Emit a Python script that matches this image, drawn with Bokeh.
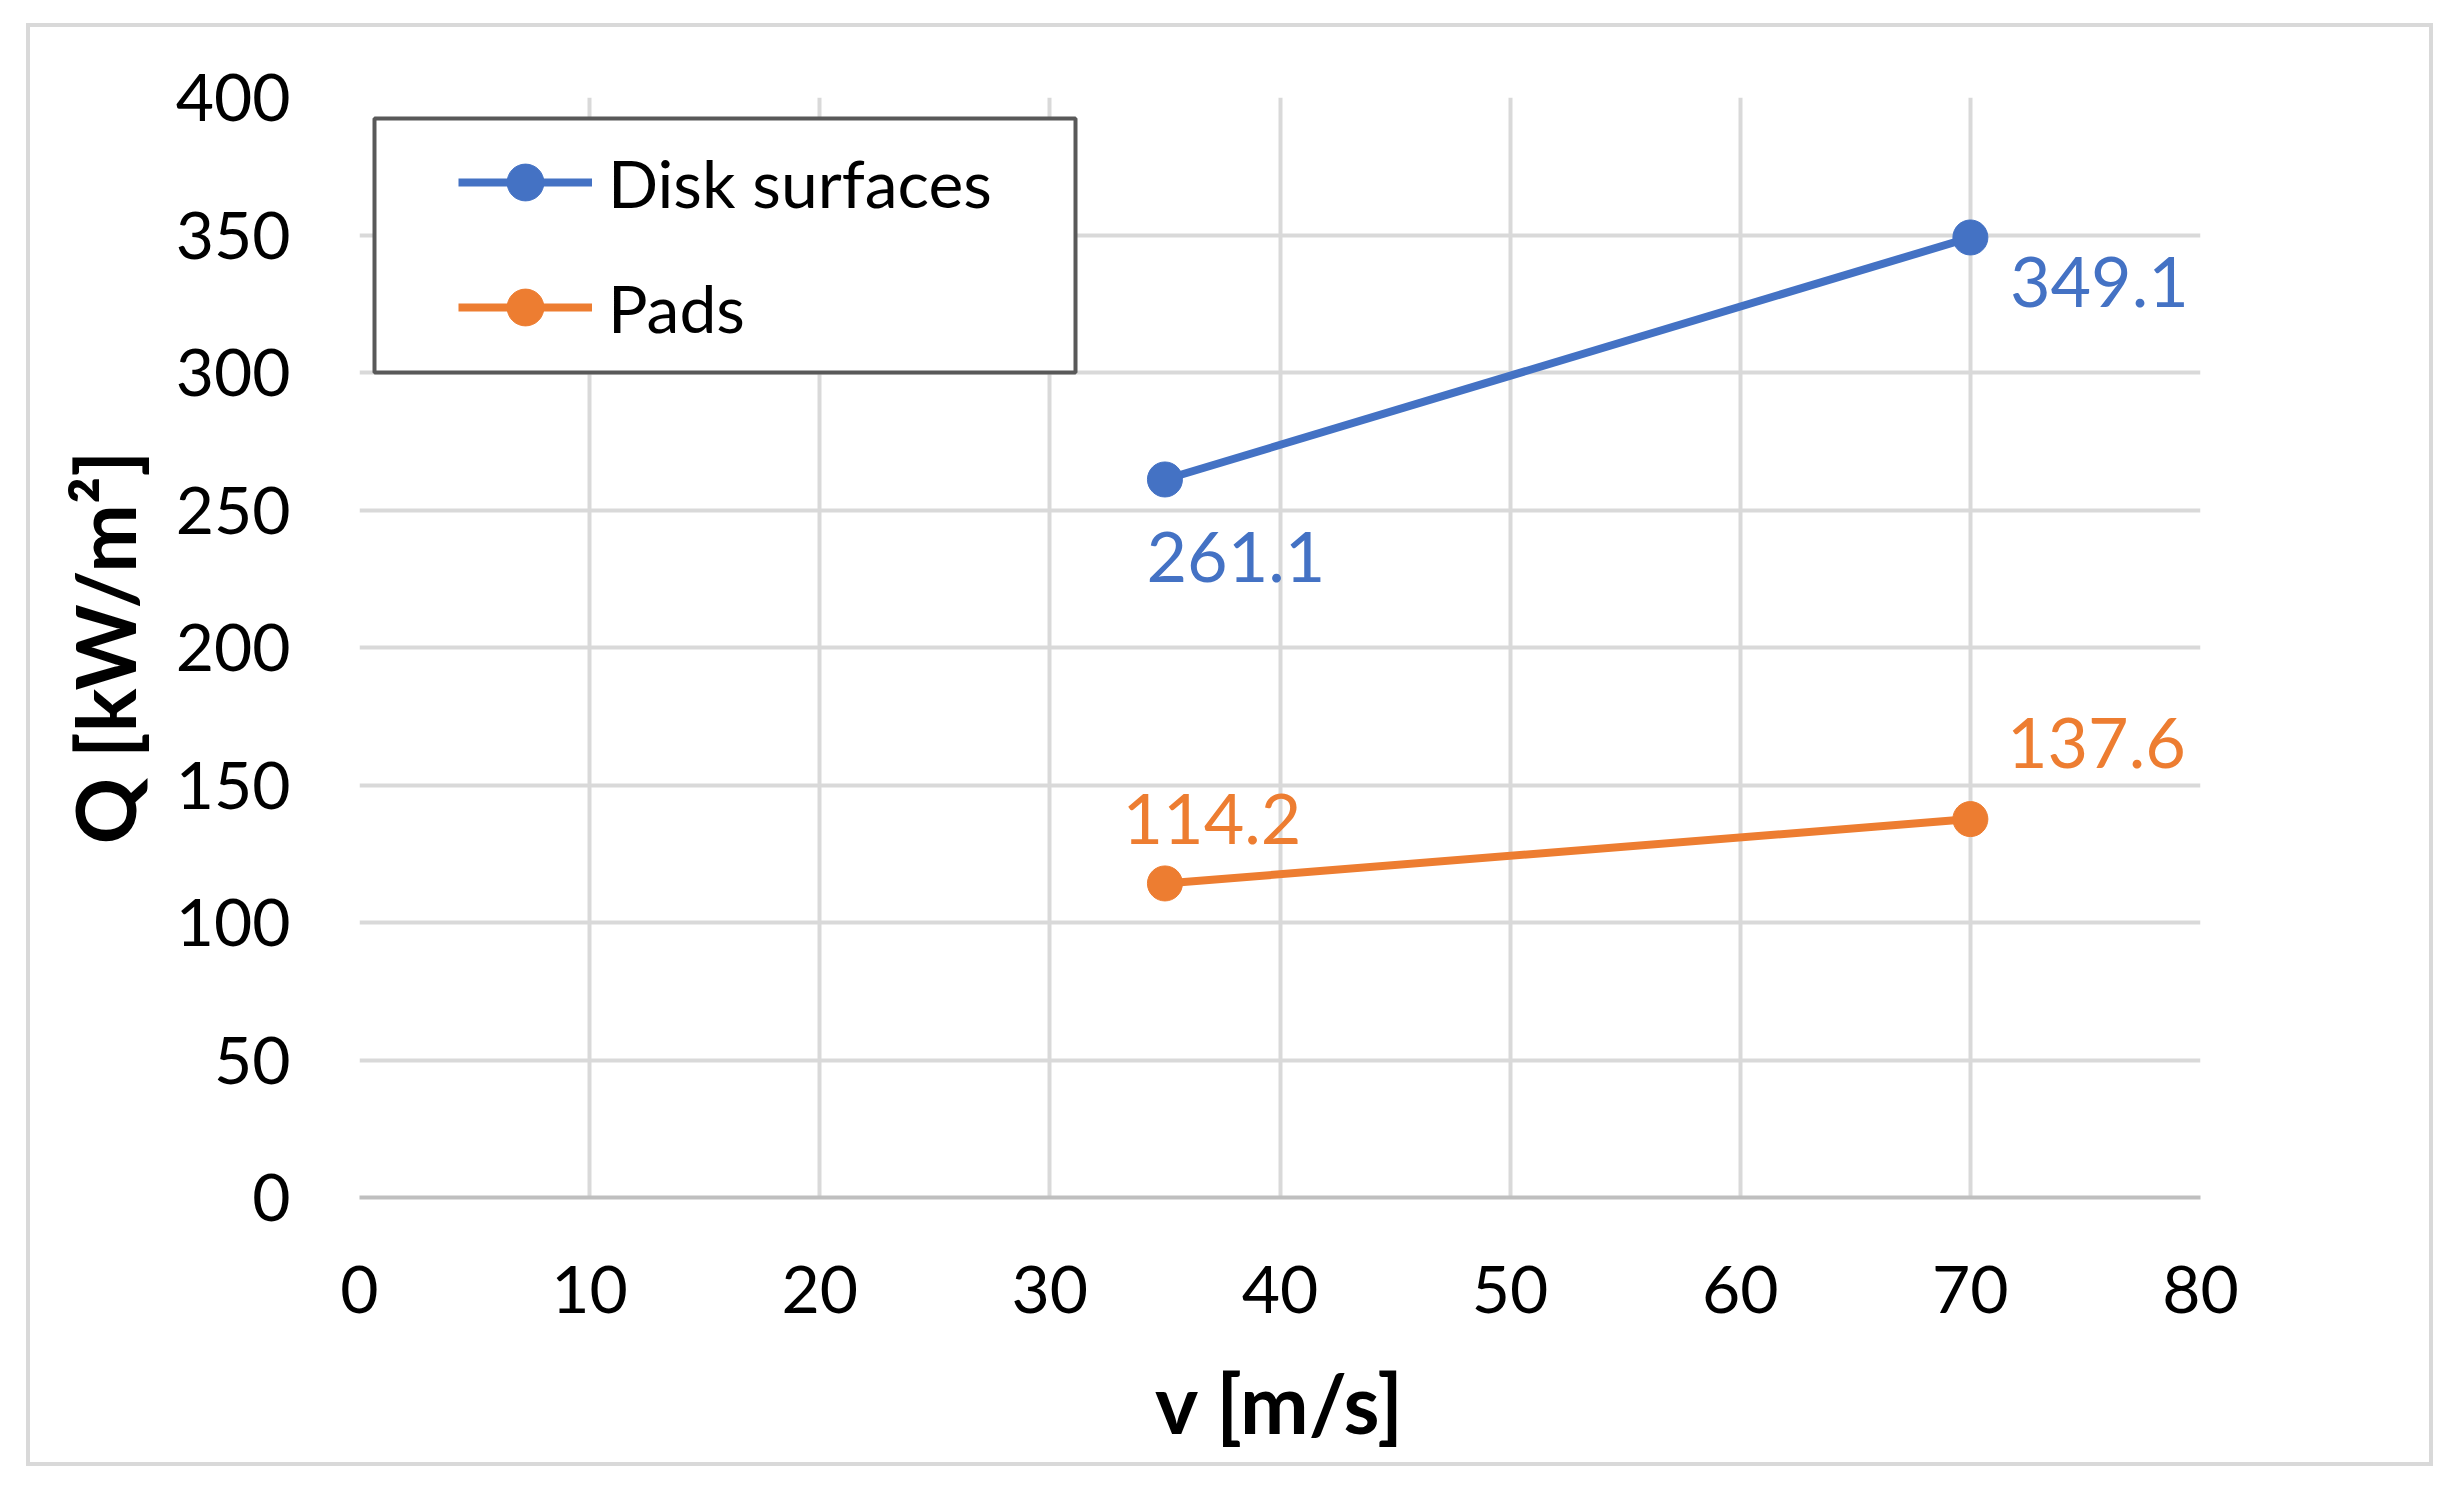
from bokeh.plotting import figure
from bokeh.models import (ColumnDataSource, LabelSet, Legend, LegendItem, BoxAnnotation,
                          Node, SingleIntervalTicker, Range1d)
from bokeh.core.properties import value
from bokeh.embed import file_html
from bokeh.resources import INLINE

# ---- data ----
speed = [35, 70]                 # v [m/s]
disk_surfaces = [261.1, 349.1]   # Q [kW/m2]
pads = [114.2, 137.6]            # Q [kW/m2]
series_names = ["Disk surfaces", "Pads"]
x_title = "v [m/s]"
y_title = "Q [kW/m\u00b2]"

# ---- style ----
BLUE = "#4472C4"
ORANGE = "#ED7D31"
GRID = "#D9D9D9"
FONT = "Lato"
TICK_FS = "66px"
LABEL_FS = "70px"
TITLE_FS = "82px"
FIG_W, FIG_H = 2407, 1443

# data-label offsets (screen px, +up)
disk_dx, disk_dy = [71, 129], [-103, -70]
pads_dx, pads_dy = [47, 126], [39, 51]

# the figure itself is the outer chart area; its light-grey border is an inset CSS shadow
p = figure(width=FIG_W, height=FIG_H, x_range=Range1d(0, 80), y_range=Range1d(0, 400),
           output_backend="svg", toolbar_location=None,
           min_border_left=333, min_border_right=233, min_border_top=74, min_border_bottom=269)
p.styles = {"margin-left": "26px", "margin-top": "23px",
            "width": f"{FIG_W}px", "height": f"{FIG_H}px",
            "background-color": "white",
            "box-shadow": "inset 0 0 0 4px #D9D9D9"}
p.outline_line_color = None
p.background_fill_color = "white"
p.border_fill_alpha = 0

# axes
p.xaxis.ticker = SingleIntervalTicker(interval=10, num_minor_ticks=0)
p.yaxis.ticker = SingleIntervalTicker(interval=50, num_minor_ticks=0)
for ax in (p.xaxis[0], p.yaxis[0]):
    ax.major_tick_line_color = None
    ax.minor_tick_line_color = None
    ax.major_tick_out = 0
    ax.major_tick_in = 0
    ax.major_label_text_font = FONT
    ax.major_label_text_font_size = TICK_FS
    ax.major_label_text_color = "black"
    ax.axis_label_text_font = FONT
    ax.axis_label_text_font_size = TITLE_FS
    ax.axis_label_text_font_style = "bold"
    ax.axis_label_text_color = "black"
p.yaxis.axis_line_color = None
p.xaxis.axis_line_color = "#BFBFBF"
p.xaxis.axis_line_width = 4
p.yaxis.major_label_standoff = 69
p.xaxis.major_label_standoff = 68
p.xaxis.axis_label = x_title
p.yaxis.axis_label = y_title
p.xaxis.axis_label_standoff = 37
p.yaxis.axis_label_standoff = 20

p.xgrid.grid_line_color = GRID
p.ygrid.grid_line_color = GRID
p.xgrid.grid_line_width = 4
p.ygrid.grid_line_width = 4

# series
src_d = ColumnDataSource(dict(x=speed, y=disk_surfaces,
                              t=[f"{v:.1f}" for v in disk_surfaces], dx=disk_dx, dy=disk_dy))
src_p = ColumnDataSource(dict(x=speed, y=pads,
                              t=[f"{v:.1f}" for v in pads], dx=pads_dx, dy=pads_dy))

l1 = p.line("x", "y", source=src_d, line_color=BLUE, line_width=8)
s1 = p.scatter("x", "y", source=src_d, size=35, fill_color=BLUE, line_color=BLUE)
l2 = p.line("x", "y", source=src_p, line_color=ORANGE, line_width=8)
s2 = p.scatter("x", "y", source=src_p, size=35, fill_color=ORANGE, line_color=ORANGE)

for src, col in ((src_d, BLUE), (src_p, ORANGE)):
    p.add_layout(LabelSet(x="x", y="y", text="t", source=src, x_offset="dx", y_offset="dy",
                          text_align="center", text_baseline="alphabetic",
                          text_font=value(FONT), text_font_size=LABEL_FS, text_color=col))

# legend box
legend_box = BoxAnnotation(left=Node(target="frame", symbol="left", offset=15),
                           right=Node(target="frame", symbol="left", offset=716),
                           top=Node(target="frame", symbol="top", offset=21),
                           bottom=Node(target="frame", symbol="top", offset=275),
                           fill_color="white", fill_alpha=1, line_color="#595959",
                           line_alpha=1, line_width=4)
p.add_layout(legend_box)

legend = Legend(items=[LegendItem(label=series_names[0], renderers=[l1, s1]),
                       LegendItem(label=series_names[1], renderers=[l2, s2])],
                location=(99, 844), glyph_width=134, glyph_height=92, spacing=33,
                padding=0, margin=0, label_standoff=16,
                label_text_font=FONT, label_text_font_size="66px", label_text_color="black",
                border_line_color=None, background_fill_alpha=0)
p.add_layout(legend)

open("out.html", "w").write(file_html(p, INLINE))
